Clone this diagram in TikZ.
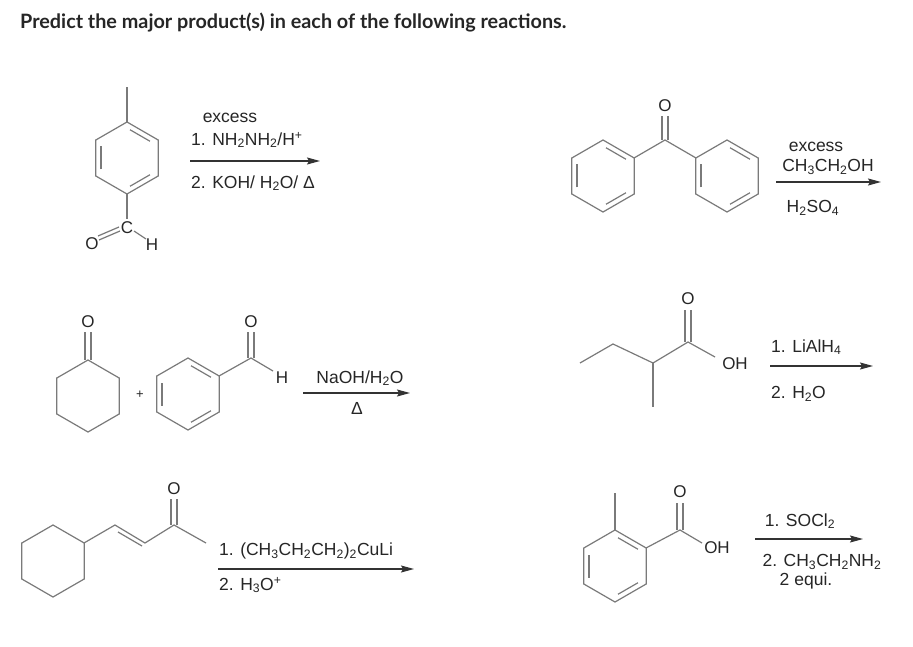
\documentclass[tikz,border=0pt]{standalone}
\usepackage{fontspec}
\setmainfont{Liberation Sans}
\newfontfamily\titlefont{Lato}
\usetikzlibrary{arrows.meta,calc}
\definecolor{bondc}{HTML}{7A7A7A}
\newcommand\sbs[1]{\textsubscript{#1}}
\newcommand\sps[1]{\textsuperscript{#1}}
\tikzset{
  bond/.style={draw=bondc,line width=1.2pt},
  inner/.style={draw=bondc,line width=1.2pt,shorten <=3.5pt,shorten >=3.5pt},
  rxn/.style={draw=black!80,line width=1.1pt,-{Stealth[length=13pt,width=7pt,inset=2pt]}},
  lbl/.style={inner sep=0pt,font=\fontsize{17.5}{20}\selectfont,text=black!85},
  atom/.style={inner sep=0pt,font=\fontsize{17}{20}\selectfont,text=black!85}
}
\newcommand\benzring[3][1]{%
\begin{scope}[shift={(#2,#3)}]
\draw[bond] (270:36)--(330:36)--(30:36)--(90:36)--(150:36)--(210:36)--cycle;
\ifnum#1=1
\draw[inner] (270:30)--(330:30);
\draw[inner] (30:30)--(90:30);
\draw[inner] (150:30)--(210:30);
\fi
\end{scope}}
\begin{document}
\begin{tikzpicture}[x=1pt,y=-1pt]
\useasboundingbox (0,0) rectangle (913,647);
\fill[white] (0,0) rectangle (913,647);
\node[anchor=west,inner sep=0pt,font=\titlefont\bfseries\fontsize{19.8}{22}\selectfont,text=black!85] (title) at (20,23) {Predict the major product(s) in each of the following reactions.};

% ---- reaction 1
\benzring{127}{158}
\draw[bond] (127,122)--(127,87);
\draw[bond] (127,194)--(127,219);
\node[atom] (c1) at (127,228) {C};
\node[atom] (o1) at (92,244) {O};
\node[atom] (h1) at (152,245) {H};
\draw[bond] ($(c1)+(-7,3)$)--($(o1)+(7,-4)$);
\draw[bond] ($(c1)+(-8,-1)$)--($(o1)+(6,-8)$);
\draw[bond] ($(c1)+(7,3)$)--($(h1)+(-6,-6)$);
\coordinate (a1s) at (190,161); \coordinate (a1e) at (320,161);
\draw[rxn] (a1s)--(a1e);
\node[lbl] (t1a) at (230,118) {excess};
\node[lbl,anchor=west] (t1b) at (191,140) {1. NH\sbs{2}NH\sbs{2}/H\sps{+}};
\node[lbl,anchor=west] (t1c) at (191,183) {2. KOH/ H\sbs{2}O/ Δ};

% ---- reaction 2
\benzring{603}{176}
\benzring{727}{176}
\draw[bond] (634,158)--(665,140)--(696,158);
\node[atom] (o2) at (665,106) {O};
\draw[bond] (662,140)--(662,116);
\draw[bond] (668,140)--(668,116);
\coordinate (a2s) at (776,182); \coordinate (a2e) at (881,182);
\draw[rxn] (a2s)--(a2e);
\node[lbl] (t2a) at (816,147) {excess};
\node[lbl] (t2b) at (828,167) {CH\sbs{3}CH\sbs{2}OH};
\node[lbl] (t2c) at (813,208) {H\sbs{2}SO\sbs{4}};

% ---- reaction 3
\begin{scope}[shift={(88,396)}]
\draw[bond] (270:36)--(330:36)--(30:36)--(90:36)--(150:36)--(210:36)--cycle;
\end{scope}
\node[atom] (o3) at (88,322) {O};
\draw[bond] (85,360)--(85,332);
\draw[bond] (91,360)--(91,332);
\node[atom] (plus) at (140,395) {\fontsize{13}{14}\selectfont +};
\benzring{188}{394}
\draw[bond] (219,376)--(251,358)--(273,371);
\node[atom] (h3) at (282,378) {H};
\node[atom] (o3b) at (251,322) {O};
\draw[bond] (248,358)--(248,332);
\draw[bond] (254,358)--(254,332);
\coordinate (a3s) at (303,393); \coordinate (a3e) at (410,393);
\draw[rxn] (a3s)--(a3e);
\node[lbl] (t3a) at (360,378) {NaOH/H\sbs{2}O};
\node[lbl] (t3b) at (357,408) {Δ};

% ---- reaction 4
\draw[bond] (580,363)--(613,344)--(653,363)--(688,342)--(715,357);
\draw[bond] (653,363)--(653,407);
\node[atom] (o4) at (688,299) {O};
\draw[bond] (685,342)--(685,310);
\draw[bond] (691,342)--(691,310);
\node[atom] (oh4) at (735,364) {OH};
\coordinate (a4s) at (770,366); \coordinate (a4e) at (873,366);
\draw[rxn] (a4s)--(a4e);
\node[lbl,anchor=west] (t4a) at (771,347) {1. LiAlH\sbs{4}};
\node[lbl,anchor=west] (t4b) at (771,394) {2. H\sbs{2}O};

% ---- reaction 5
\begin{scope}[shift={(53,561)}]
\draw[bond] (270:36)--(330:36)--(30:36)--(90:36)--(150:36)--(210:36)--cycle;
\end{scope}
\draw[bond] (84,543)--(115,525)--(145,543)--(174,525)--(206,543);
\draw[bond] (118,532)--(142,546);
\node[atom] (o5) at (174,489) {O};
\draw[bond] (171,525)--(171,499);
\draw[bond] (177,525)--(177,499);
\coordinate (a5s) at (218,569); \coordinate (a5e) at (414,569);
\draw[rxn] (a5s)--(a5e);
\node[lbl,anchor=west] (t5a) at (219,551) {1. (CH\sbs{3}CH\sbs{2}CH\sbs{2})\sbs{2}CuLi};
\node[lbl,anchor=west] (t5b) at (219,585) {2. H\sbs{3}O\sps{+}};

% ---- reaction 6
\benzring{615}{566}
\draw[bond] (615,530)--(615,493);
\draw[bond] (646,548)--(680,530)--(702,543);
\node[atom] (o6) at (680,492) {O};
\draw[bond] (677,530)--(677,503);
\draw[bond] (683,530)--(683,503);
\node[atom] (oh6) at (717,548) {OH};
\coordinate (a6s) at (755,539); \coordinate (a6e) at (863,539);
\draw[rxn] (a6s)--(a6e);
\node[lbl] (t6a) at (800,521) {1. SOCl\sbs{2}};
\node[lbl] (t6b) at (822,562) {2. CH\sbs{3}CH\sbs{2}NH\sbs{2}};
\node[lbl] (t6c) at (806,581) {2 equi.};
\end{tikzpicture}
\end{document}
